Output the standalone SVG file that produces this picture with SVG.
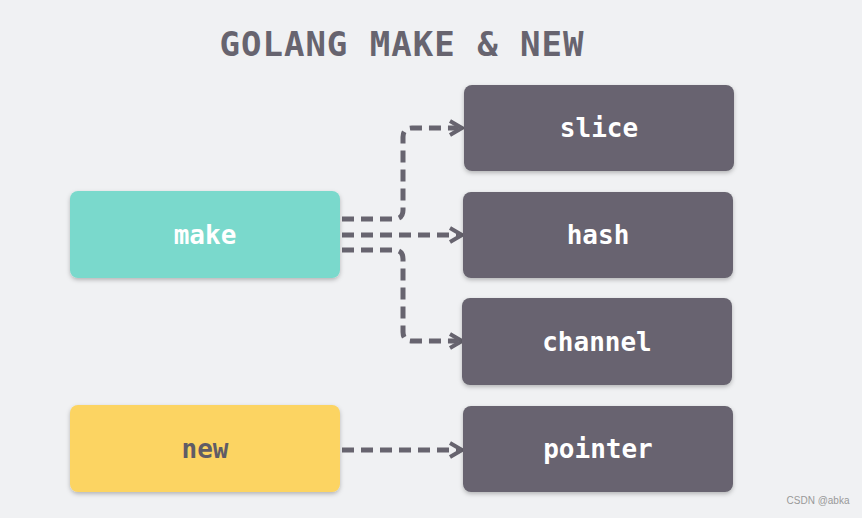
<svg xmlns="http://www.w3.org/2000/svg" width="862" height="518" viewBox="0 0 862 518">
<style>
.t{font-family:"DejaVu Sans Mono",monospace;font-weight:bold;font-size:26px;text-anchor:middle;dominant-baseline:central}
.d{fill:#67646f}
.c{fill:none;stroke:#67646f;stroke-width:5;stroke-dasharray:12 7}
.a{fill:none;stroke:#67646f;stroke-width:4}
</style>
<defs>
<filter id="s" x="-10%" y="-10%" width="120%" height="130%"><feDropShadow dx="0" dy="2" stdDeviation="2" flood-opacity="0.25"/></filter>
</defs>
<rect width="862" height="518" fill="#f0f1f3"/>
<text x="402" y="44" class="t" style="font-size:34px;fill:#67646f;letter-spacing:1px">GOLANG MAKE &amp; NEW</text>
<g id="connectors">
<path class="c" d="M342 219H394Q403 219 403 210V137Q403 128 412 128H458"/>
<path class="c" d="M342 235H458"/>
<path class="c" d="M342 250H394Q403 250 403 259V332Q403 341 412 341H458"/>
<path class="c" d="M342 450H458"/>
<path class="a" d="M450 121L462 128L450 135M450 228L462 235L450 242M450 334L462 341L450 348M450 443L462 450L450 457"/>
</g>
<g id="make"><rect x="70" y="191" width="270" height="87" rx="8" fill="#7ad9cc" filter="url(#s)"/><text x="205" y="235" class="t" fill="#fff">make</text></g>
<g id="new"><rect x="70" y="405" width="270" height="87" rx="8" fill="#fcd462" filter="url(#s)"/><text x="205" y="449" class="t" fill="#5f5c66">new</text></g>
<g id="slice"><rect x="464" y="85" width="270" height="86" rx="8" class="d" filter="url(#s)"/><text x="599" y="128" class="t" fill="#fff">slice</text></g>
<g id="hash"><rect x="463" y="192" width="270" height="86" rx="8" class="d" filter="url(#s)"/><text x="598" y="235" class="t" fill="#fff">hash</text></g>
<g id="channel"><rect x="462" y="298" width="270" height="87" rx="8" class="d" filter="url(#s)"/><text x="597" y="342" class="t" fill="#fff">channel</text></g>
<g id="pointer"><rect x="463" y="406" width="270" height="86" rx="8" class="d" filter="url(#s)"/><text x="598" y="449" class="t" fill="#fff">pointer</text></g>
<text x="818" y="504" style="font-family:'Liberation Sans',sans-serif;font-size:10px;fill:#999;text-anchor:middle">CSDN @abka</text>
</svg>
